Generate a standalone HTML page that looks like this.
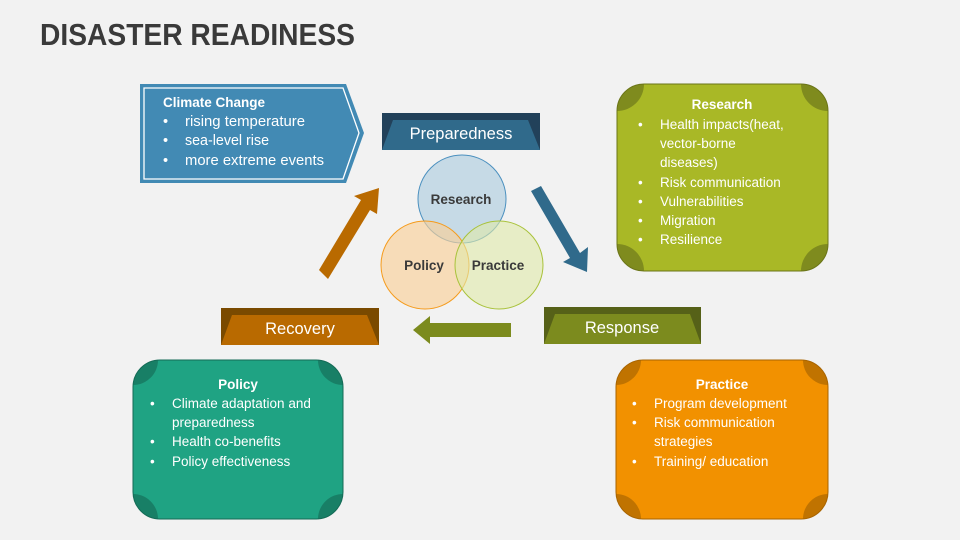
<!DOCTYPE html>
<html><head><meta charset="utf-8"><style>
html,body{margin:0;padding:0;background:#f2f2f2;}
svg{display:block;font-family:"Liberation Sans",sans-serif;}
.t{fill:#fff;font-size:13.5px;}
.b{font-weight:bold;}
</style></head><body>
<svg width="960" height="540" viewBox="0 0 960 540">
<rect width="960" height="540" fill="#f2f2f2"/>
<text x="40" y="45" font-size="31" font-weight="bold" fill="#3a3a3a" textLength="315" lengthAdjust="spacingAndGlyphs">DISASTER READINESS</text>

<!-- Climate change pentagon -->
<polygon points="140,84 346,84 364,133 346,183 140,183" fill="#428ab4"/>
<polygon points="144,88 343,88 359,133 343,179 144,179" fill="none" stroke="#fff" stroke-width="1.3"/>
<text x="163" y="107" class="t b" font-size="14">Climate Change</text>
<g class="t" style="font-size:14.5px"><text x="163" y="126">•</text><text x="185" y="126" textLength="120" lengthAdjust="spacingAndGlyphs">rising temperature</text>
<text x="163" y="145">•</text><text x="185" y="145" textLength="84" lengthAdjust="spacingAndGlyphs">sea-level rise</text>
<text x="163" y="165">•</text><text x="185" y="165" textLength="139" lengthAdjust="spacingAndGlyphs">more extreme events</text></g>

<!-- banners -->
<rect x="382" y="113" width="158" height="37" fill="#22415a"/>
<polygon points="393,120 528,120 540,150 382,150" fill="#306a8b"/>
<text x="461" y="139" text-anchor="middle" class="t" style="font-size:16.5px">Preparedness</text>

<rect x="221" y="308" width="158" height="37" fill="#7a4a00"/>
<polygon points="232,315 367,315 379,345 221,345" fill="#b96a00"/>
<text x="300" y="334" text-anchor="middle" class="t" style="font-size:16.5px">Recovery</text>

<rect x="544" y="307" width="157" height="37" fill="#566118"/>
<polygon points="555,314 690,314 701,344 544,344" fill="#7c8b1e"/>
<text x="622" y="333" text-anchor="middle" class="t" style="font-size:16.5px">Response</text>

<!-- circles -->
<circle cx="462" cy="199" r="44" fill="#b7d2e2" fill-opacity="0.75" stroke="#4b90bf" stroke-width="1"/>
<circle cx="425" cy="265" r="44" fill="#f9cf98" fill-opacity="0.65" stroke="#f59b1c" stroke-width="1"/>
<circle cx="499" cy="265" r="44" fill="#dfe9a8" fill-opacity="0.6" stroke="#a9c23b" stroke-width="1"/>
<g font-size="13.5" font-weight="bold" fill="#3a3a3a" text-anchor="middle">
<text x="461" y="204">Research</text><text x="424" y="270">Policy</text><text x="498" y="270">Practice</text></g>

<!-- arrows -->
<polygon points="319,270 361,200 354,196 379,188 377,214 370,210 328,279" fill="#b96a00"/>
<polygon points="531,191 570,258 563,262 587,272 588,247 580,253 541,186" fill="#306a8b"/>
<polygon points="511,323 430,323 430,316 413,330 430,344 430,337 511,337" fill="#7c8b1e"/>

<defs>
<clipPath id="c1"><rect x="617" y="84" width="211" height="187" rx="27"/></clipPath>
<clipPath id="c2"><rect x="133" y="360" width="210" height="159" rx="27"/></clipPath>
<clipPath id="c3"><rect x="616" y="360" width="212" height="159" rx="27"/></clipPath>
</defs>

<!-- Research box -->
<g clip-path="url(#c1)">
<rect x="617" y="84" width="211" height="187" fill="#a9b826"/>
<g fill="#7f8b1e"><circle cx="617" cy="84" r="27"/><circle cx="828" cy="84" r="27"/><circle cx="617" cy="271" r="27"/><circle cx="828" cy="271" r="27"/></g>
</g>
<rect x="617" y="84" width="211" height="187" rx="27" fill="none" stroke="#6b7518" stroke-width="1"/>
<text x="722" y="109" text-anchor="middle" class="t b">Research</text>
<g class="t">
<text x="638" y="129">•</text><text x="660" y="129">Health impacts(heat,</text>
<text x="660" y="148">vector-borne</text>
<text x="660" y="167">diseases)</text>
<text x="638" y="187">•</text><text x="660" y="187">Risk communication</text>
<text x="638" y="206">•</text><text x="660" y="206">Vulnerabilities</text>
<text x="638" y="225">•</text><text x="660" y="225">Migration</text>
<text x="638" y="244">•</text><text x="660" y="244">Resilience</text>
</g>

<!-- Policy box -->
<g clip-path="url(#c2)">
<rect x="133" y="360" width="210" height="159" fill="#1fa383"/>
<g fill="#187f66"><circle cx="133" cy="360" r="25"/><circle cx="343" cy="360" r="25"/><circle cx="133" cy="519" r="25"/><circle cx="343" cy="519" r="25"/></g>
</g>
<rect x="133" y="360" width="210" height="159" rx="27" fill="none" stroke="#146b56" stroke-width="1"/>
<text x="238" y="389" text-anchor="middle" class="t b">Policy</text>
<g class="t">
<text x="150" y="408">•</text><text x="172" y="408">Climate adaptation and</text>
<text x="172" y="427">preparedness</text>
<text x="150" y="446">•</text><text x="172" y="446">Health co-benefits</text>
<text x="150" y="466">•</text><text x="172" y="466">Policy effectiveness</text>
</g>

<!-- Practice box -->
<g clip-path="url(#c3)">
<rect x="616" y="360" width="212" height="159" fill="#f29100"/>
<g fill="#c07300"><circle cx="616" cy="360" r="25"/><circle cx="828" cy="360" r="25"/><circle cx="616" cy="519" r="25"/><circle cx="828" cy="519" r="25"/></g>
</g>
<rect x="616" y="360" width="212" height="159" rx="27" fill="none" stroke="#a86400" stroke-width="1"/>
<text x="722" y="389" text-anchor="middle" class="t b">Practice</text>
<g class="t">
<text x="632" y="408">•</text><text x="654" y="408">Program development</text>
<text x="632" y="427">•</text><text x="654" y="427">Risk communication</text>
<text x="654" y="446">strategies</text>
<text x="632" y="466">•</text><text x="654" y="466">Training/ education</text>
</g>
</svg>
</body></html>
